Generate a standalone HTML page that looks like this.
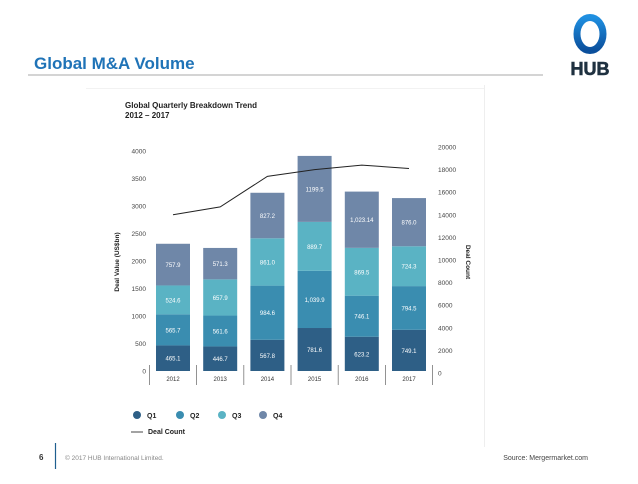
<!DOCTYPE html>
<html><head><meta charset="utf-8"><style>
body{margin:0;background:#fff;width:638px;height:479px;overflow:hidden;font-family:"Liberation Sans",sans-serif}
</style></head><body>
<svg id="page" width="638" height="479" viewBox="0 0 638 479" xmlns="http://www.w3.org/2000/svg" font-family="Liberation Sans, sans-serif">
<defs><linearGradient id="rg" x1="0" y1="0" x2="0" y2="1"><stop offset="0" stop-color="#1f8fe0"/><stop offset="1" stop-color="#0b4f9c"/></linearGradient></defs>
<text x="34" y="69" font-size="17" font-weight="bold" fill="#1f73b7">Global M&amp;A Volume</text>
<line x1="28" y1="75" x2="543" y2="75" stroke="#aaa" stroke-width="1"/>
<g>
<ellipse cx="590" cy="34" rx="13" ry="16.5" fill="none" stroke="url(#rg)" stroke-width="7"/>
<text x="590" y="75" text-anchor="middle" font-size="18" font-weight="900" fill="#1f3140" stroke="#1f3140" stroke-width="0.6">HUB</text>
</g>
<line x1="484.5" y1="85" x2="484.5" y2="447" stroke="#eee"/>
<line x1="86" y1="88.5" x2="484" y2="88.5" stroke="#f2f2f2"/>
<text x="125" y="108" font-size="8" font-weight="bold" fill="#222">Global Quarterly Breakdown Trend</text>
<text x="125" y="118" font-size="8" font-weight="bold" fill="#222">2012 – 2017</text>
<g id="chart"></g>
<g>
<circle cx="137" cy="415" r="4" fill="#2e5f86"/><text x="147" y="418" font-size="7" font-weight="bold" fill="#222">Q1</text>
<circle cx="180" cy="415" r="4" fill="#3a8db0"/><text x="190" y="418" font-size="7" font-weight="bold" fill="#222">Q2</text>
<circle cx="222" cy="415" r="4" fill="#5ab3c4"/><text x="232" y="418" font-size="7" font-weight="bold" fill="#222">Q3</text>
<circle cx="263" cy="415" r="4" fill="#6f87a8"/><text x="273" y="418" font-size="7" font-weight="bold" fill="#222">Q4</text>
<line x1="131" y1="432" x2="143" y2="432" stroke="#666" stroke-width="1.2"/><text x="148" y="434" font-size="7" font-weight="bold" fill="#222">Deal Count</text>
</g>
<line x1="55.5" y1="443" x2="55.5" y2="469" stroke="#1f5f8f" stroke-width="1.2"/>
<text x="39" y="460" font-size="8" font-weight="bold" fill="#333">6</text>
<text x="65" y="460" font-size="6.5" fill="#888">© 2017 HUB International Limited.</text>
<text x="588" y="460" text-anchor="end" font-size="7" fill="#444">Source:  Mergermarket.com</text>
</svg>
<script>
const years=["2012","2013","2014","2015","2016","2017"];
const q1=[465.1,446.7,567.8,781.6,623.2,749.1];
const q2=[565.7,561.6,984.6,1039.9,746.1,794.5];
const q3=[524.6,657.9,861.0,889.7,869.5,724.3];
const q4=[757.9,571.3,827.2,1199.5,1023.14,876.0];
const q1Labels=["465.1","446.7","567.8","781.6","623.2","749.1"];
const q2Labels=["565.7","561.6","984.6","1,039.9","746.1","794.5"];
const q3Labels=["524.6","657.9","861.0","889.7","869.5","724.3"];
const q4Labels=["757.9","571.3","827.2","1199.5","1,023.14","876.0"];
const dealCount=[14000,14700,17400,18000,18400,18100];
const leftTicks=[0,500,1000,1500,2000,2500,3000,3500,4000];
const rightTicks=[0,2000,4000,6000,8000,10000,12000,14000,16000,18000,20000];
const NS="http://www.w3.org/2000/svg";
const g=document.getElementById('chart');
const yL=v=>371-v*0.055;
const yR=v=>373-v*0.0113;
const xC=i=>173+i*47.2;
const BW=34;
function el(t,a,p){const e=document.createElementNS(NS,t);for(const k in a)e.setAttribute(k,a[k]);(p||g).appendChild(e);return e;}
leftTicks.forEach(v=>{const t=el('text',{x:146,y:yL(v)+2.5,'text-anchor':'end','font-size':6.5,fill:'#444'});t.textContent=v;

});
rightTicks.forEach(v=>{const t=el('text',{x:438,y:yR(v)+2.5,'font-size':6.5,fill:'#444'});t.textContent=v;

});
let t=el('text',{transform:'translate(119,262) rotate(-90)','text-anchor':'middle','font-size':6.5,'font-weight':'bold',fill:'#222'});t.textContent='Deal Value (US$bn)';


t=el('text',{transform:'translate(466,262) rotate(90)','text-anchor':'middle','font-size':6.5,'font-weight':'bold',fill:'#222'});t.textContent='Deal Count';


const series=[[q1,q1Labels,'#2e5f86','q1'],[q2,q2Labels,'#3a8db0','q2'],[q3,q3Labels,'#5ab3c4','q3'],[q4,q4Labels,'#6f87a8','q4']];
years.forEach((y,i)=>{let base=0;series.forEach(([vals,labs,col,nm])=>{const v=vals[i];
const r=el('rect',{x:xC(i)-BW/2,y:yL(base+v),width:BW,height:v*0.055,fill:col});


const l=el('text',{x:xC(i),y:yL(base+v/2)+2.5,'text-anchor':'middle','font-size':6,fill:'#fff'});l.textContent=labs[i];


base+=v;});
const yl=el('text',{x:xC(i),y:381,'text-anchor':'middle','font-size':6,fill:'#333'});yl.textContent=y;


});
for(let i=0;i<=6;i++){const s=el('line',{x1:xC(i)-23.6,x2:xC(i)-23.6,y1:365,y2:385,stroke:'#777','stroke-width':0.8});

}
const pl=el('polyline',{points:dealCount.map((v,i)=>xC(i)+','+yR(v)).join(' '),fill:'none',stroke:'#222','stroke-width':1});


</script>
</body></html>
